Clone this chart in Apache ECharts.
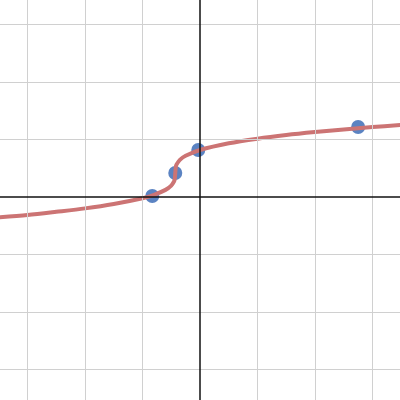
<!DOCTYPE html>
<html><head><meta charset="utf-8">
<script src="https://cdn.jsdelivr.net/npm/echarts@6/dist/echarts.min.js"></script>
<style>html,body{margin:0;padding:0;background:#fff}#c{width:400px;height:400px}</style>
</head><body><div id="c"></div>
<script>
const gridX = [-3,-2,-1,1,2,3];
const gridY = [-3,-2,-1,1,2,3];
const curve = [[-3.48,-0.35],[-3,-0.31],[-2.5,-0.255],[-2,-0.196],[-1.5,-0.12],[-1,-0.02],[-0.8,0.04],[-0.6,0.126],[-0.5,0.2],[-0.45,0.276],[-0.44,0.306],[-0.43,0.42],[-0.42,0.534],[-0.41,0.564],[-0.35,0.648],[-0.25,0.72],[0,0.82],[0.5,0.937],[1,1.017],[1.5,1.08],[2,1.132],[2.5,1.178],[3,1.219],[3.48,1.255]];
const points = [[-0.83,0.02],[-0.43,0.42],[-0.03,0.82],[2.75,1.22]];
const chart = echarts.init(document.getElementById('c'));
const line = (c,w)=>({color:c,width:w,type:'solid'});
chart.setOption({
  animation:false,
  grid:{left:0,right:0,top:0,bottom:0},
  xAxis:{type:'value',min:-3.478,max:3.478,show:false},
  yAxis:{type:'value',min:-3.53,max:3.43,show:false},
  series:[
    {type:'line',data:[],silent:true,markLine:{symbol:'none',label:{show:false},lineStyle:line('#d0d0d0',1),
      data:gridX.map(v=>({xAxis:v})).concat(gridY.map(v=>({yAxis:v})))}},
    {type:'line',data:[],silent:true,markLine:{symbol:'none',label:{show:false},lineStyle:line('#111',1.5),
      data:[{xAxis:0},{yAxis:0}]}},
    {type:'line',data:curve,smooth:0.3,showSymbol:false,lineStyle:{color:'#cc7474',width:4}},
    {type:'scatter',data:points,symbolSize:14,itemStyle:{color:'#5b83c2',opacity:1}}
  ]
});
</script></body></html>
